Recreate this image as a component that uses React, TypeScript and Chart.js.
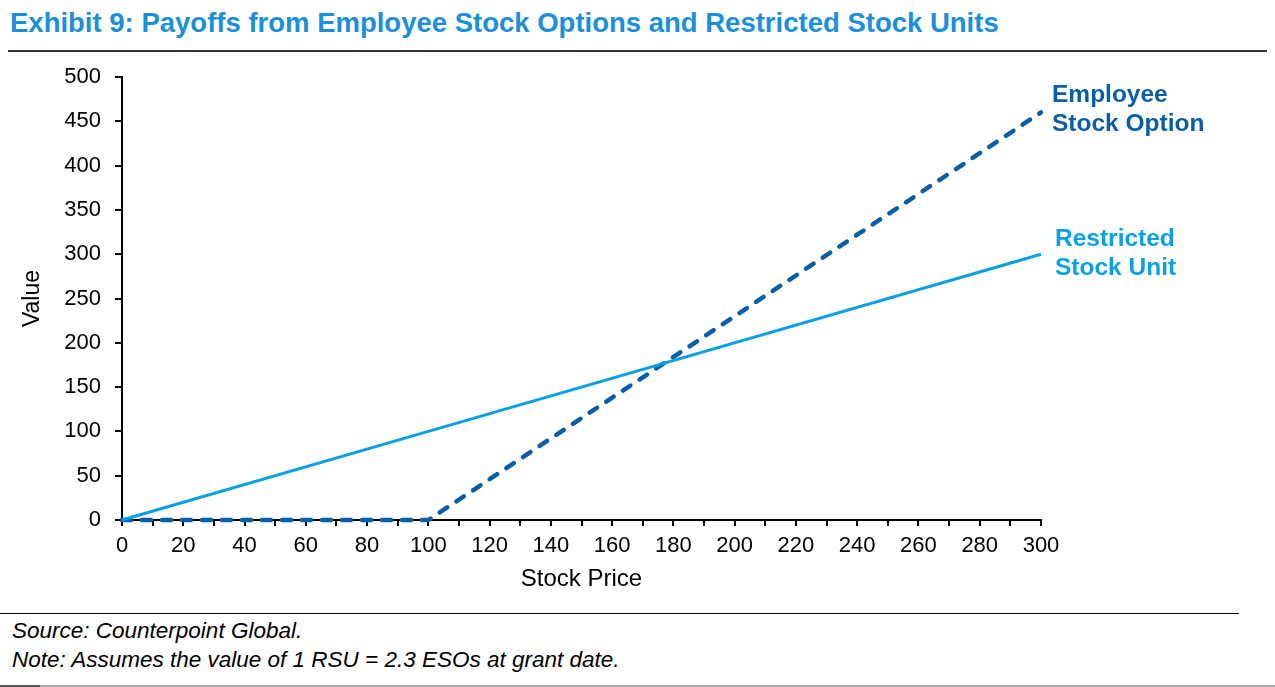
import React, { useEffect, useRef } from "react";
import { Chart, registerables } from "chart.js";

Chart.register(...registerables);

const stockPrice = [0, 100, 300];
const rsuValue = [0, 100, 300];
const esoValue = [0, 0, 460];
const xTicks = { min: 0, max: 300, step: 10, labelEvery: 20 };
const yTicks = { min: 0, max: 500, step: 50 };

const RSU_COLOR = "#0AA0E2";
const ESO_COLOR = "#0A5EA8";
const TITLE_COLOR = "#1B8FDB";
const FONT = "Arial, 'Liberation Sans', sans-serif";

export default function App() {
  const ref = useRef<HTMLCanvasElement>(null);

  useEffect(() => {
    document.body.style.margin = "0";
    const ctx = ref.current!;
    const chart = new Chart(ctx, {
      type: "line",
      data: {
        datasets: [
          {
            label: "Restricted Stock Unit",
            data: stockPrice.map((x, i) => ({ x, y: rsuValue[i] })),
            borderColor: RSU_COLOR,
            borderWidth: 3,
            pointRadius: 0,
            fill: false,
            clip: false,
          },
          {
            label: "Employee Stock Option",
            data: stockPrice.map((x, i) => ({ x, y: esoValue[i] })),
            borderColor: ESO_COLOR,
            borderWidth: 4.5,
            borderDash: [9, 11],
            borderCapStyle: "round",
            pointRadius: 0,
            fill: false,
            clip: false,
          },
        ],
      },
      options: {
        animation: false,
        responsive: false,
        maintainAspectRatio: false,
        layout: { padding: { top: 17, right: 234, left: 0, bottom: 0 } },
        plugins: { legend: { display: false }, tooltip: { enabled: false } },
        scales: {
          x: {
            type: "linear",
            min: xTicks.min,
            max: xTicks.max,
            afterFit: (s: any) => {
              s.height = 80;
              s.paddingLeft = 0;
              s.paddingRight = 0;
              s.paddingTop = 0;
              s.paddingBottom = 0;
            },
            border: { color: "#000", width: 2 },
            grid: { drawOnChartArea: false, color: "#000", lineWidth: 2, tickLength: 6 },
            ticks: {
              stepSize: xTicks.step,
              autoSkip: false,
              maxRotation: 0,
              padding: 7,
              color: "#000",
              font: { family: FONT, size: 22 },
              callback: (v: any) => (Number(v) % xTicks.labelEvery === 0 ? String(v) : ""),
            },
            title: {
              display: true,
              text: "Stock Price",
              color: "#000",
              font: { family: FONT, size: 24 },
              padding: { top: 0, bottom: 6 },
            },
          },
          y: {
            min: yTicks.min,
            max: yTicks.max,
            afterFit: (s: any) => {
              s.width = 122;
              s.paddingLeft = 0;
              s.paddingRight = 0;
              s.paddingTop = 0;
              s.paddingBottom = 0;
            },
            border: { color: "#000", width: 2 },
            grid: { drawOnChartArea: false, color: "#000", lineWidth: 2, tickLength: 7 },
            ticks: {
              stepSize: yTicks.step,
              padding: 14,
              color: "#000",
              font: { family: FONT, size: 22 },
            },
            title: {
              display: true,
              text: "Value",
              color: "#000",
              font: { family: FONT, size: 23 },
              padding: { top: 19, bottom: 0 },
            },
          },
        },
      },
    });
    return () => chart.destroy();
  }, []);

  const abs = (s: React.CSSProperties): React.CSSProperties => ({ position: "absolute", ...s });

  return (
    <div style={{ position: "fixed", left: 0, top: 0, width: 1275, height: 687, background: "#fff", overflow: "hidden", fontFamily: FONT }}>
      <div style={abs({ left: 10, top: 6, fontSize: 27.5, fontWeight: "bold", color: TITLE_COLOR, lineHeight: "34px", whiteSpace: "nowrap" })}>
        Exhibit 9: Payoffs from Employee Stock Options and Restricted Stock Units
      </div>
      <div style={abs({ left: 8, top: 50, width: 1259, height: 2, background: "#333" })} />
      <canvas ref={ref} width={1275} height={540} style={abs({ left: 0, top: 60, width: 1275, height: 540 })} />
      <div style={abs({ left: 1052, top: 79, fontSize: 24.5, fontWeight: "bold", color: ESO_COLOR, lineHeight: "29px", whiteSpace: "nowrap" })}>
        Employee
        <br />
        Stock Option
      </div>
      <div style={abs({ left: 1055, top: 223, fontSize: 24.5, fontWeight: "bold", color: RSU_COLOR, lineHeight: "29px", whiteSpace: "nowrap" })}>
        Restricted
        <br />
        Stock Unit
      </div>
      <div style={abs({ left: 0, top: 613, width: 1239, height: 1, background: "#000" })} />
      <div style={abs({ left: 12, top: 616, fontSize: 22.5, fontStyle: "italic", color: "#000", lineHeight: "29px", whiteSpace: "nowrap" })}>
        Source: Counterpoint Global.
        <br />
        Note: Assumes the value of 1 RSU = 2.3 ESOs at grant date.
      </div>
      <div style={abs({ left: 0, top: 685, width: 1275, height: 2, background: "#aaa" })} />
      <div style={abs({ left: 0, top: 685, width: 40, height: 2, background: "#555" })} />
    </div>
  );
}
